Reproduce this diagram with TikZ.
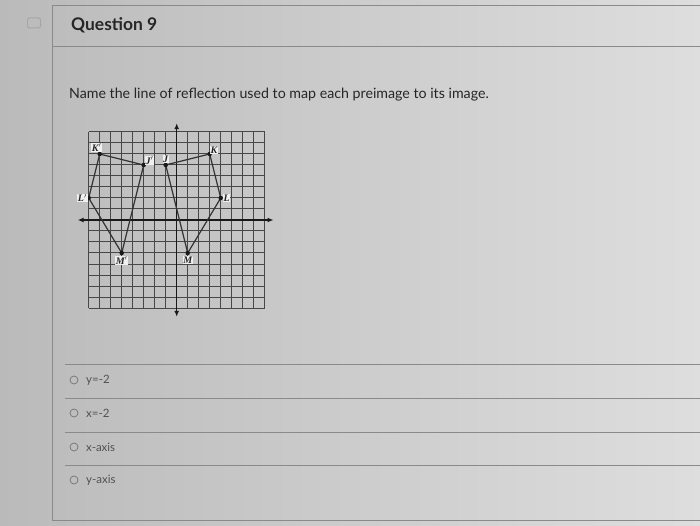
\documentclass[tikz,border=0pt]{standalone}
\usepackage{fontspec}
\setmainfont{Lato}
\newfontfamily\lblfont{Liberation Serif}
\usetikzlibrary{arrows.meta}
\definecolor{txt}{HTML}{262626}
\definecolor{rule}{HTML}{8A8A8A}
\begin{document}
\begin{tikzpicture}[x=1pt,y=-1pt,
  optline/.style={draw=rule,line width=0.9pt},
  optcircle/.style={draw=black!55,line width=0.7pt,circle,minimum size=8pt,inner sep=0pt},
  opttext/.style={anchor=west,font=\fontsize{11.5}{13}\selectfont,text=txt!80,inner sep=0pt},
  gridline/.style={draw=black!72,line width=1pt},
  axisline/.style={draw=black!90,line width=1.2pt,{Latex[length=6pt,width=5pt]}-{Latex[length=6pt,width=5pt]}},
  figline/.style={draw=black!80,line width=1.2pt},
  dotpt/.style={circle,fill=black!90,inner sep=0pt,minimum size=4.5pt},
  ptlabel/.style={font=\lblfont\fontsize{10}{11}\selectfont\bfseries\itshape,text=black!85,fill=black!6,inner sep=0.6pt}
]
\useasboundingbox (0,0) rectangle (700,526);
\shade[left color=black!27,right color=black!13] (0,0) rectangle (700,526);
% card
\draw[draw=rule,line width=0.8pt] (700,5) -- (52,5) -- (52,520) -- (700,520);
\draw[draw=rule,line width=0.9pt] (52,46) -- (700,46);
% header icon
\node[draw=black!35,line width=1pt,rounded corners=2pt,minimum width=13pt,minimum height=10pt,inner sep=0pt] (icon) at (34,23) {};
\node[anchor=west,font=\fontsize{17.4}{19}\selectfont\bfseries,text=txt,inner sep=0pt] (title) at (71,25) {Question 9};
\node[anchor=west,font=\fontsize{14.2}{16}\selectfont,text=txt,inner sep=0pt] (q) at (69,95) {Name the line of reflection used to map each preimage to its image.};
% graph
\begin{scope}[shift={(176.7,220)},x=11pt,y=11pt]
  \foreach \i in {-8,...,8} {
    \draw[gridline] (\i,-8) -- (\i,8);
    \draw[gridline] (-8,\i) -- (8,\i);
  }
  \coordinate (xl) at (-9,0); \coordinate (xr) at (8.8,0);
  \coordinate (yt) at (0,8.8); \coordinate (yb) at (0,-8.8);
  \draw[axisline] (xl) -- (xr);
  \draw[axisline] (yt) -- (yb);
  \coordinate (K) at (3,6); \coordinate (J) at (-1,5);
  \coordinate (M) at (1,-3); \coordinate (L) at (4,2);
  \coordinate (Kp) at (-7,6); \coordinate (Jp) at (-3,5);
  \coordinate (Mp) at (-5,-3); \coordinate (Lp) at (-8,2);
  \draw[figline] (K) -- (J) -- (M) -- (L) -- cycle;
  \draw[figline] (Kp) -- (Jp) -- (Mp) -- (Lp) -- cycle;
  \foreach \p in {K,J,M,L,Kp,Jp,Mp,Lp} \node[dotpt] at (\p) {};
  \node[ptlabel,anchor=south] (lKp) at ([xshift=-3pt,yshift=2pt]Kp) {K$'$};
  \node[ptlabel,anchor=south west] (lJp) at ([xshift=1pt,yshift=0pt]Jp) {J$'$};
  \node[ptlabel,anchor=south] (lJ) at ([yshift=2pt]J) {J};
  \node[ptlabel,anchor=south west] (lK) at ([xshift=0pt,yshift=0pt]K) {K};
  \node[ptlabel,anchor=west] (lL) at ([xshift=2pt]L) {L};
  \node[ptlabel,anchor=east] (lLp) at ([xshift=-1pt]Lp) {L$'$};
  \node[ptlabel,anchor=north] (lMp) at ([yshift=-3pt]Mp) {M$'$};
  \node[ptlabel,anchor=north] (lM) at ([yshift=-3pt]M) {M};
\end{scope}
% options
\foreach \y in {364,398,432,465} \draw[optline] (65,\y) -- (700,\y);
\node[optcircle] (c1) at (74,380) {};
\node[opttext] (o1) at (86,380) {y=-2};
\node[optcircle] (c2) at (74,413) {};
\node[opttext] (o2) at (86,413) {x=-2};
\node[optcircle] (c3) at (74,447) {};
\node[opttext] (o3) at (86,447) {x-axis};
\node[optcircle] (c4) at (74,480) {};
\node[opttext] (o4) at (86,480) {y-axis};
\end{tikzpicture}
\end{document}
